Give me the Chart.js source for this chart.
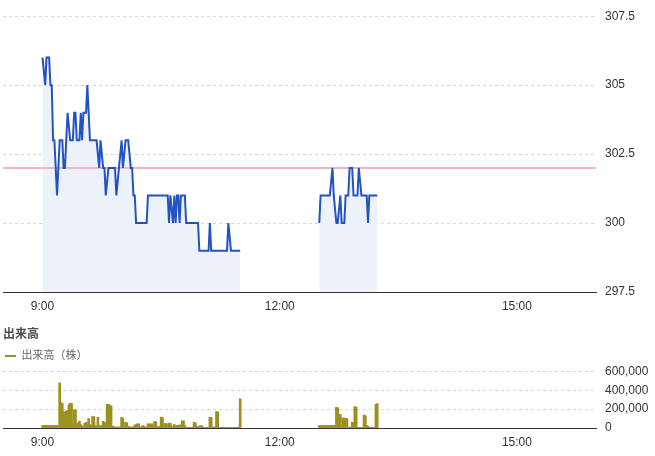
<!DOCTYPE html>
<html>
<head>
<meta charset="utf-8">
<script src="https://cdn.jsdelivr.net/npm/chart.js@4.4.1/dist/chart.umd.min.js"></script>
<style>
  body { margin: 0; background: #fff; }
  #priceBox { position: relative; width: 655px; height: 318px; }
  #volBox { position: relative; width: 655px; height: 138px; }
</style>
</head>
<body>
<div id="priceBox"><canvas id="price"></canvas></div>
<div id="volBox"><canvas id="volume"></canvas></div>
<script>
// 株価 前場
var amTimes = ['9:00','9:02','9:03','9:05','9:06','9:07','9:08','9:09','9:11','9:13',
	'9:15','9:16','9:17','9:19','9:21','9:23','9:24','9:25','9:26','9:28',
	'9:29','9:30','9:31','9:33','9:34','9:36','9:41','9:43','9:44','9:46',
	'9:47','9:48','9:50','9:55','9:56','9:58','10:00','10:01','10:03','10:05',
	'10:07','10:08','10:09','10:10','10:11','10:19','10:20','10:35','10:36','10:37',
	'10:39','10:40','10:41','10:42','10:43','10:44','10:45','10:48','10:49','10:58',
	'10:59','11:06','11:07','11:08','11:20','11:21','11:23','11:30'];
var amPrices = [306,305,306,306,305,305,303,303,301,303,
	303,302,302,304,303,303,304,304,303,303,
	304,303,304,304,305,303,303,302,303,302,
	302,301,302,302,301,302,303,302,303,303,
	302,302,301,301,300,300,301,301,300,301,
	300,301,300,301,301,300,301,301,300,300,
	299,299,300,299,299,300,299,299];

// 株価 後場
var pmTimes = ['12:30','12:31','12:38','12:40','12:41','12:43','12:44','12:46','12:47','12:49',
	'12:50','12:52','12:53','12:55','12:56','12:59','13:00','13:02','13:06','13:07',
	'13:08','13:14'];
var pmPrices = [300,301,301,302,301,300,300,301,300,300,
	301,301,302,302,301,301,302,301,301,300,
	301,301];

var prevClose = 302; // 前日終値

// 出来高（1分ごと）
var amVolStart = '9:00';
var amVolume = [25000,25000,25000,25000,25000,25000,25000,25000,25000,25000,
	25000,25000,25000,480000,270000,260000,175000,120000,180000,185000,
	245000,262000,262000,35000,196000,190000,30000,52000,70000,35000,
	20000,15000,50000,60000,40000,100000,35000,25000,122000,120000,
	25000,15000,112000,25000,25000,20000,70000,50000,60000,252000,
	250000,240000,235000,18000,15000,10000,10000,10000,10000,10000,
	112000,100000,18000,60000,55000,18000,10000,10000,10000,10000,
	30000,35000,45000,45000,10000,10000,25000,20000,10000,8000,
	45000,45000,40000,45000,15000,70000,65000,15000,12000,15000,
	115000,110000,25000,49000,45000,20000,52000,50000,20000,15000,
	35000,20000,25000,28000,30000,30000,77000,75000,25000,8000,
	8000,8000,8000,8000,8000,60000,55000,15000,12000,20000,
	25000,20000,8000,8000,8000,8000,8000,112000,110000,10000,
	10000,10000,175000,170000,6000,6000,6000,6000,6000,6000,
	6000,6000,6000,6000,6000,6000,6000,6000,8000,10000,
	310000];
var pmVolStart = '12:30';
var pmVolume = [25000,25000,25000,25000,25000,25000,25000,25000,25000,25000,
	25000,25000,25000,220000,215000,147000,140000,25000,105000,105000,
	100000,100000,10000,8000,10000,60000,55000,227000,220000,8000,
	8000,8000,8000,8000,136000,130000,25000,20000,8000,8000,
	8000,8000,8000,250000,260000];

var xTicks = ['9:00','12:00','15:00'];
var xMin = '8:30';
var xMax = '16:00';
var priceTicks = [297.5, 300, 302.5, 305, 307.5];
var volumeTicks = [0, 200000, 400000, 600000];

function toMin(s) {
	var p = s.split(':');
	return parseInt(p[0]) * 60 + parseInt(p[1]);
}

function toLabel(v) {
	var h = Math.floor(v / 60);
	var m = v % 60;
	return h + ':' + (m < 10 ? '0' : '') + m;
}

function puntos(times, values) {
	var out = [];
	for (var i = 0; i < times.length; i++) {
		out.push({ x: toMin(times[i]), y: values[i] });
	}
	return out;
}

function puntosMinuto(start, values) {
	var out = [];
	var t0 = toMin(start);
	for (var i = 0; i < values.length; i++) {
		out.push({ x: t0 + i, y: values[i] });
	}
	return out;
}

Chart.defaults.font.family = '"Liberation Sans", Arial, "Noto Sans CJK JP", sans-serif';
Chart.defaults.animation = false;

function ejeX(height) {
	return {
		type: 'linear',
		min: toMin(xMin),
		max: toMin(xMax),
		offset: false,
		afterBuildTicks: function (axis) {
			axis.ticks = xTicks.map(function (t) { return { value: toMin(t) }; });
		},
		ticks: {
			callback: function (v) { return toLabel(v); },
			color: '#333', font: { size: 12 }, padding: 7, maxRotation: 0, autoSkip: false
		},
		grid: { display: false, drawTicks: false },
		border: { display: true, color: '#333', width: 1 },
		afterFit: function (axis) { axis.height = height; }
	};
}

function ejeY(min, max, tickList, fmt) {
	return {
		position: 'right',
		min: min,
		max: max,
		afterBuildTicks: function (axis) {
			axis.ticks = tickList.map(function (v) { return { value: v }; });
		},
		ticks: { callback: fmt, color: '#333', font: { size: 12 }, padding: 9 },
		grid: { color: '#d4d4d4', drawTicks: false },
		border: { display: false, dash: [3, 3] },
		afterFit: function (axis) { axis.width = 59; }
	};
}

var precio = puntos(amTimes, amPrices);
precio.push({ x: toMin('12:00'), y: null });
precio = precio.concat(puntos(pmTimes, pmPrices));

new Chart(document.getElementById('price'), {
	type: 'line',
	data: {
		datasets: [{
			label: '株価',
			data: precio,
			borderColor: '#2253c3',
			borderWidth: 2,
			backgroundColor: '#edf1fa',
			fill: 'start',
			pointRadius: 0,
			tension: 0,
			spanGaps: false,
			order: 0
		}, {
			label: '前日終値',
			data: [{ x: toMin(xMin), y: prevClose }, { x: toMin(xMax), y: prevClose }],
			borderColor: '#f8b5c1',
			borderWidth: 2,
			pointRadius: 0,
			fill: false,
			order: 1
		}]
	},
	options: {
		responsive: true,
		maintainAspectRatio: false,
		layout: { padding: { top: 16, left: 3, right: 0, bottom: 0 } },
		plugins: {
			legend: { display: false },
			tooltip: { enabled: false },
			filler: { drawTime: 'beforeDatasetsDraw' }
		},
		scales: {
			x: ejeX(26),
			y: ejeY(297.5, 307.5, priceTicks, function (v) { return String(v); })
		}
	}
});

var volumen = puntosMinuto(amVolStart, amVolume).concat(puntosMinuto(pmVolStart, pmVolume));

new Chart(document.getElementById('volume'), {
	type: 'bar',
	data: {
		datasets: [{
			label: '出来高（株）',
			data: volumen,
			backgroundColor: '#9c911f',
			borderWidth: 0,
			barThickness: 2
		}]
	},
	options: {
		responsive: true,
		maintainAspectRatio: false,
		layout: { padding: { top: 0, left: 3, right: 0, bottom: 0 } },
		plugins: {
			title: {
				display: true,
				text: '出来高',
				align: 'start',
				color: '#4a4a4a',
				font: { size: 12, weight: 'bold' },
				padding: { top: 9, bottom: 7 }
			},
			legend: {
				display: true,
				align: 'start',
				labels: { boxWidth: 11, boxHeight: 2, color: '#666', font: { size: 11 }, padding: 2 }
			},
			tooltip: { enabled: false }
		},
		scales: {
			x: ejeX(28),
			y: ejeY(0, 600000, volumeTicks, function (v) { return v.toLocaleString('en-US'); })
		}
	}
});
</script>
</body>
</html>
